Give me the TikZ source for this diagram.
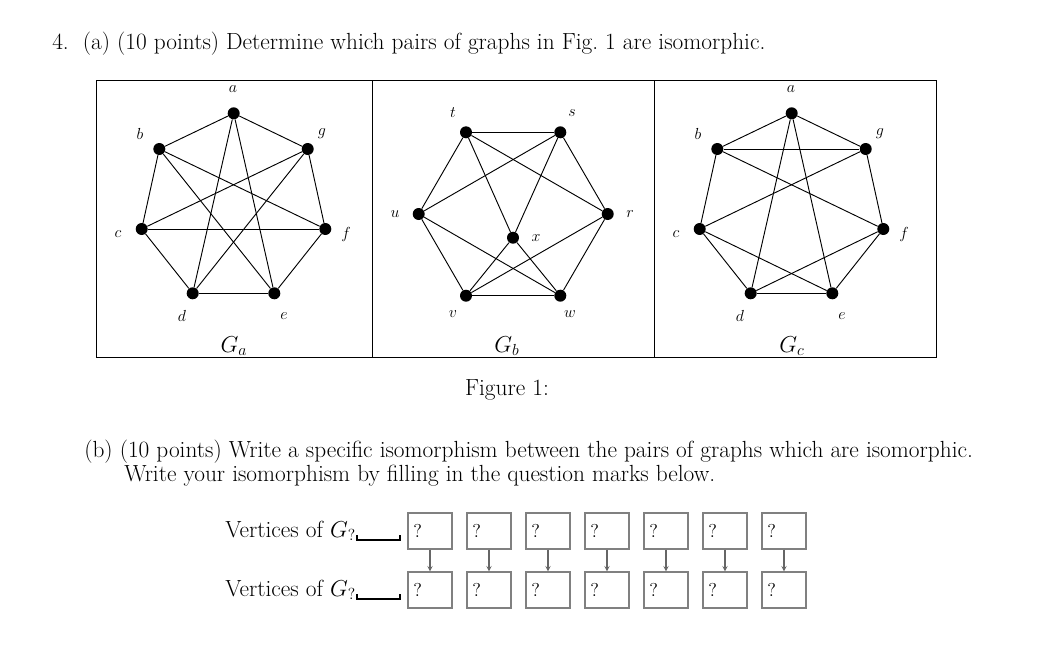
\documentclass[tikz,border=0pt]{standalone}
\begin{document}
\begin{tikzpicture}[x=0.75pt,y=-0.75pt,
 v/.style={circle,fill=black,inner sep=0pt,minimum size=9pt},
 lab/.style={font=\fontsize{11.5}{13}\selectfont\itshape},
 e/.style={line width=0.7pt},
 bx/.style={draw=gray,line width=0.8pt,minimum width=33pt,minimum height=27pt,text depth=0pt,inner sep=2pt,font=\fontsize{14}{16}\selectfont,align=left,text width=25pt},
 txt/.style={font=\fontsize{17.5}{20}\selectfont,anchor=west,inner sep=0pt}]
\useasboundingbox (0,0) rectangle (1061,657);
\node[txt] (h) at (52,44) {4.\ \ (a) (10 points) Determine which pairs of graphs in Fig.~1 are isomorphic.};
\draw[line width=0.7pt] (96,80) rectangle (936,357);
\draw[line width=0.7pt] (372,80) -- (372,357) (654,80) -- (654,357);
% Ga
\foreach \n/\x/\y in {a/233.7/113.3,b/159.3/149,g/307.7/149,c/141.7/229,f/325.3/229,d/192.7/293.3,e/274.3/293.3}
 \node[v] (A\n) at (\x,\y) {};
\foreach \u/\w in {a/b,a/g,a/d,a/e,b/c,b/e,b/f,g/c,g/d,g/f,c/f,c/d,d/e,e/f}
 \draw[e] (A\u) -- (A\w);
\foreach \n/\x/\y in {a/233/89,b/140/134,g/322/134,c/118/234,f/346/234,d/182/316,e/284/316}
 \node[lab] (LA\n) at (\x,\y) {$\n$};
\node[font=\fontsize{17}{20}\selectfont] (Ga) at (234,346) {$G_a$};
% Gb
\foreach \n/\x/\y in {t/466/132.3,s/560.3/132.3,u/418.7/214,r/607.7/214,x/513/237.7,v/466/295.7,w/560.3/295.7}
 \node[v] (B\n) at (\x,\y) {};
\foreach \u/\w in {t/s,t/u,t/x,t/r,s/u,s/x,s/r,u/v,u/w,r/v,r/w,x/v,x/w,v/w}
 \draw[e] (B\u) -- (B\w);
\foreach \n/\x/\y in {t/453/113,s/572/113,u/395/214,r/630/214,x/536/238,v/453/314,w/570/314}
 \node[lab] (LB\n) at (\x,\y) {$\n$};
\node[font=\fontsize{17}{20}\selectfont] (Gb) at (507,346) {$G_b$};
% Gc
\foreach \n/\x/\y in {a/791.7/113.3,b/717.3/149,g/865.7/149,c/699.7/229,f/883.3/229,d/750.7/293.3,e/832.3/293.3}
 \node[v] (C\n) at (\x,\y) {};
\foreach \u/\w in {a/b,a/g,a/d,a/e,b/g,b/c,b/f,g/c,g/f,c/d,c/e,f/d,f/e,d/e}
 \draw[e] (C\u) -- (C\w);
\foreach \n/\x/\y in {a/791/89,b/698/134,g/880/134,c/676/234,f/904/234,d/740/316,e/842/316}
 \node[lab] (LC\n) at (\x,\y) {$\n$};
\node[font=\fontsize{17}{20}\selectfont] (Gc) at (792,346) {$G_c$};
\node[font=\fontsize{17.5}{20}\selectfont] (fig) at (507,390) {Figure 1:};
\node[txt] (b1) at (84,452) {(b) (10 points) Write a specific isomorphism between the pairs of graphs which are isomorphic.};
\node[txt] (b2) at (124,476) {Write your isomorphism by filling in the question marks below.};
\node[txt] (r1) at (225,531) {Vertices of $G_?$};
\node[txt] (r2) at (225,590) {Vertices of $G_?$};
\draw[line width=0.8pt] (357,535) -- (357,540) -- (400,540) -- (400,535);
\draw[line width=0.8pt] (357,594) -- (357,599) -- (400,599) -- (400,594);
\foreach \i in {0,...,6}{
 \node[bx] (T\i) at (430+59*\i,531) {?};
 \node[bx] (U\i) at (430+59*\i,590) {?};
 \draw[-stealth,gray!80!black,line width=0.8pt] (T\i.south) -- (U\i.north);
}
\end{tikzpicture}
\end{document}
